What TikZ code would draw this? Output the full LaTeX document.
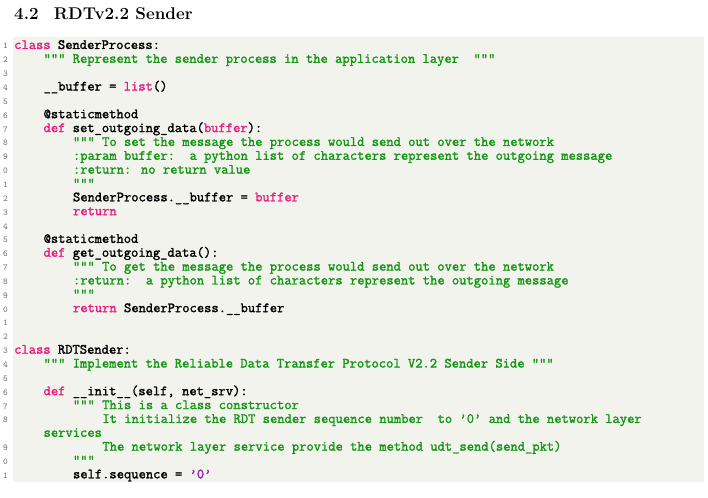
\documentclass[tikz,border=0pt]{standalone}
\usepackage{fontspec}
\newfontfamily\codefont{Latin Modern Mono}[FakeBold=1.6]
\definecolor{kwc}{RGB}{230,30,125}
\definecolor{strc}{RGB}{20,150,20}
\definecolor{numc}{RGB}{150,20,200}
\definecolor{bgc}{RGB}{243,243,238}
\definecolor{lnc}{RGB}{110,110,110}
\newcommand{\kw}[1]{\textcolor{kwc}{#1}}
\newcommand{\st}[1]{\textcolor{strc}{#1}}
\newcommand{\nm}[1]{\textcolor{numc}{#1}}
\begin{document}
\begin{tikzpicture}[x=1pt,y=1pt,
  code/.style={anchor=base west,inner sep=0pt,font=\fontsize{14.15}{14}\codefont},
  lnum/.style={anchor=base east,inner sep=0pt,text=lnc,font=\fontsize{9}{10}\ttfamily}]
\useasboundingbox (0,0) rectangle (708,497);
\fill[bgc] (13,15) rectangle (704,460);
\node[anchor=base west,inner sep=0pt,font=\fontsize{17}{20}\bfseries] (head) at (14,477) {4.2\hspace{0.9em}RDTv2.2 Sender};
\def\cw{7.35}
\def\codeline#1#2#3#4{% row, indent, number, text
  \node[code] (c#1) at ({14+#2*\cw},{448-(#1-1)*13.85}) {#4};
  \node[lnum] (n#1) at (8,{448-(#1-1)*13.85}) {#3};}
\codeline{1}{0}{1}{\kw{class} SenderProcess:}
\codeline{2}{4}{2}{\st{""" Represent the sender process in the application layer\ \ """}}
\codeline{3}{0}{3}{}
\codeline{4}{4}{4}{\_\_buffer = \kw{list}()}
\codeline{5}{0}{5}{}
\codeline{6}{4}{6}{@staticmethod}
\codeline{7}{4}{7}{\kw{def} set\_outgoing\_data(\kw{buffer}):}
\codeline{8}{8}{8}{\st{""" To set the message the process would send out over the network}}
\codeline{9}{8}{9}{\st{:param buffer:\ \ a python list of characters represent the outgoing message}}
\codeline{10}{8}{0}{\st{:return: no return value}}
\codeline{11}{8}{1}{\st{"""}}
\codeline{12}{8}{2}{SenderProcess.\_\_buffer = \kw{buffer}}
\codeline{13}{8}{3}{\kw{return}}
\codeline{14}{0}{4}{}
\codeline{15}{4}{5}{@staticmethod}
\codeline{16}{4}{6}{\kw{def} get\_outgoing\_data():}
\codeline{17}{8}{7}{\st{""" To get the message the process would send out over the network}}
\codeline{18}{8}{8}{\st{:return:\ \ a python list of characters represent the outgoing message}}
\codeline{19}{8}{9}{\st{"""}}
\codeline{20}{8}{0}{\kw{return} SenderProcess.\_\_buffer}
\codeline{21}{0}{1}{}
\codeline{22}{0}{2}{}
\codeline{23}{0}{3}{\kw{class} RDTSender:}
\codeline{24}{4}{4}{\st{""" Implement the Reliable Data Transfer Protocol V2.2 Sender Side """}}
\codeline{25}{0}{5}{}
\codeline{26}{4}{6}{\kw{def} \_\_init\_\_(self, net\_srv):}
\codeline{27}{8}{7}{\st{""" This is a class constructor}}
\codeline{28}{12}{8}{\st{It initialize the RDT sender sequence number\ \ to ’0’ and the network layer}}
\codeline{29}{4}{}{\st{services}}
\codeline{30}{12}{9}{\st{The network layer service provide the method udt\_send(send\_pkt)}}
\codeline{31}{8}{0}{\st{"""}}
\codeline{32}{8}{1}{self.sequence = \nm{’0’}}
\end{tikzpicture}
\end{document}
